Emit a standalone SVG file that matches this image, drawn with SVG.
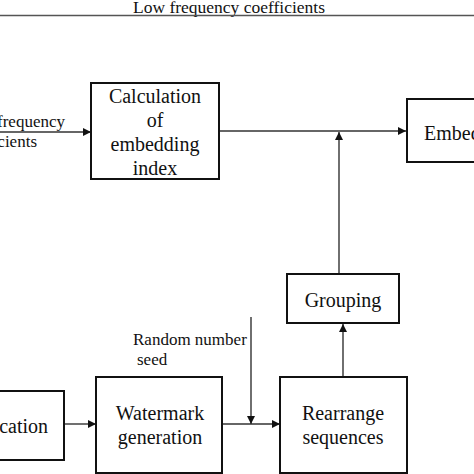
<svg xmlns="http://www.w3.org/2000/svg" width="474" height="474" viewBox="0 0 474 474">
<style>
text{font-family:"Liberation Serif","Times New Roman",serif;fill:#111}
.n rect{fill:#fff;stroke:#111;stroke-width:2}
.t{font-size:20px;text-anchor:middle}
.s{font-size:17px}
.c line{stroke:#333;stroke-width:1.4;fill:none}
</style>
<defs>
<marker id="a" viewBox="0 0 10 10" refX="10" refY="5" markerWidth="9" markerHeight="8" markerUnits="userSpaceOnUse" orient="auto"><path d="M0,0L10,5L0,10z" fill="#111"/></marker>
</defs>
<rect width="474" height="474" fill="#fff"/>
<text x="229" y="12.5" class="s" text-anchor="middle" style="font-size:17.5px">Low frequency coefficients</text>
<line x1="0" y1="15.5" x2="474" y2="15.5" stroke="#555" stroke-width="1.5"/>
<g class="c">
<line x1="0" y1="132" x2="91" y2="132" marker-end="url(#a)"/>
<line x1="219" y1="131" x2="406" y2="131" marker-end="url(#a)"/>
<line x1="339" y1="274" x2="339" y2="132" marker-end="url(#a)"/>
<line x1="343" y1="377" x2="343" y2="324" marker-end="url(#a)"/>
<line x1="64" y1="424" x2="96" y2="424" marker-end="url(#a)"/>
<line x1="222" y1="424" x2="280" y2="424" marker-end="url(#a)"/>
<line x1="251" y1="317" x2="251" y2="424" marker-end="url(#a)"/>
</g>
<text x="65" y="127" class="s" text-anchor="end">Low frequency</text>
<text x="37" y="147" class="s" text-anchor="end">coefficients</text>
<text x="133" y="345" class="s">Random number</text>
<text x="137" y="365" class="s">seed</text>
<g id="calc" class="n"><rect x="91" y="83" width="128" height="96"/>
<text class="t" x="155" y="103">Calculation</text><text class="t" x="155" y="127">of</text><text class="t" x="155" y="151">embedding</text><text class="t" x="155" y="175">index</text></g>
<g id="embed" class="n"><rect x="407" y="99" width="80" height="63"/>
<text x="424" y="140" style="font-size:20px">Embedding</text></g>
<g id="group" class="n"><rect x="287" y="274" width="112" height="49"/>
<text class="t" x="343" y="307">Grouping</text></g>
<g id="rearr" class="n"><rect x="280" y="377" width="127" height="96"/>
<text class="t" x="343" y="420">Rearrange</text><text class="t" x="343" y="444">sequences</text></g>
<g id="wm" class="n"><rect x="96" y="377" width="126" height="96"/>
<text class="t" x="160" y="420">Watermark</text><text class="t" x="160" y="444">generation</text></g>
<g id="left" class="n"><rect x="-20" y="391" width="84" height="69"/>
<text x="48" y="433" style="font-size:20px;text-anchor:end">cation</text></g>
</svg>
